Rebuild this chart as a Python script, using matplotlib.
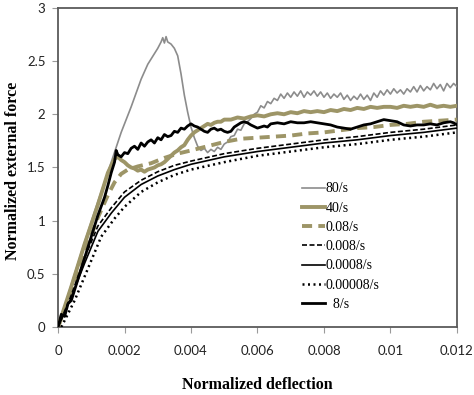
import numpy as np
import matplotlib
matplotlib.use("Agg")
import matplotlib.pyplot as plt

# ── DATA (x in units of 1e-3) ──────────────────────────────────────────────
# 80/s : rise and peak, then a sampled tail (step 0.1e-3 from 3.5e-3)
X80_HEAD = [0, 0.4, 0.8, 1.2, 1.6, 1.9, 2.2, 2.5, 2.7, 2.9, 3.0, 3.1, 3.15, 3.2, 3.25, 3.3, 3.4]
Y80_HEAD = [0, 0.40, 0.80, 1.18, 1.55, 1.83, 2.07, 2.33, 2.47, 2.57, 2.62, 2.68, 2.72, 2.67, 2.73, 2.68, 2.66]
X80_TAIL_START, X80_TAIL_STEP = 3.5, 0.1
Y80_TAIL = [2.62, 2.55, 2.38, 2.18, 2.02, 1.88, 1.78, 1.70, 1.66, 1.68,
            1.64, 1.67, 1.65, 1.69, 1.67, 1.72, 1.74, 1.79, 1.80, 1.86,
            1.85, 1.91, 1.93, 1.96, 2.00, 2.02, 2.08, 2.06, 2.12, 2.10,
            2.15, 2.13, 2.19, 2.15, 2.20, 2.16, 2.21, 2.17, 2.22, 2.16,
            2.21, 2.18, 2.22, 2.17, 2.21, 2.16, 2.20, 2.15, 2.19, 2.16,
            2.20, 2.14, 2.18, 2.13, 2.17, 2.14, 2.19, 2.14, 2.18, 2.13,
            2.20, 2.16, 2.22, 2.18, 2.23, 2.19, 2.24, 2.20, 2.23, 2.19,
            2.24, 2.21, 2.26, 2.21, 2.27, 2.22, 2.26, 2.23, 2.29, 2.24,
            2.28, 2.22, 2.29, 2.25, 2.29, 2.26]

X40 = [0, 0.4, 0.8, 1.2, 1.5, 1.7,
       1.8, 1.9, 2.0, 2.1, 2.2, 2.3, 2.4, 2.5, 2.6, 2.7, 2.8, 2.9, 3.0, 3.1, 3.2, 3.3,
       3.4, 3.5, 3.6, 3.7, 3.8, 3.9, 4.0, 4.1, 4.2, 4.3, 4.4, 4.5, 4.6, 4.7, 4.8, 4.9, 5.0,
       5.2, 5.4, 5.6, 5.8, 6.0, 6.2, 6.4, 6.6, 6.8, 7.0, 7.2, 7.4, 7.6, 7.8, 8.0, 8.2,
       8.4, 8.6, 8.8, 9.0, 9.2, 9.4, 9.6, 9.8, 10.0, 10.2, 10.4, 10.6, 10.8, 11.0, 11.2,
       11.4, 11.6, 11.8, 12.0]
Y40 = [0, 0.38, 0.78, 1.15, 1.45, 1.58,
       1.60, 1.57, 1.55, 1.52, 1.50, 1.49, 1.47, 1.48, 1.46, 1.48, 1.49, 1.50, 1.52, 1.53, 1.55, 1.58,
       1.61, 1.64, 1.66, 1.69, 1.71, 1.76, 1.80, 1.83, 1.85, 1.87, 1.89, 1.91, 1.90, 1.92, 1.93, 1.93, 1.95,
       1.95, 1.97, 1.96, 1.98, 1.99, 1.98, 2.00, 2.01, 2.00, 2.02, 2.01, 2.03, 2.02, 2.03, 2.02, 2.04,
       2.03, 2.05, 2.04, 2.06, 2.05, 2.07, 2.06, 2.07, 2.07, 2.06, 2.08, 2.07, 2.08, 2.07, 2.09,
       2.07, 2.08, 2.07, 2.08]

X008 = [0, 0.4, 0.8, 1.2, 1.5, 1.7, 1.9, 2.1, 2.4, 2.8, 3.2, 3.6, 4.0, 4.5, 5.0, 5.5,
        6.0, 6.5, 7.0, 7.5, 8.0, 8.5, 9.0, 9.5, 10.0, 10.5, 11.0, 11.5, 12.0]
Y008 = [0, 0.34, 0.70, 1.03, 1.24, 1.36, 1.44, 1.48, 1.51, 1.54, 1.59, 1.63, 1.66, 1.70, 1.74, 1.77,
        1.78, 1.79, 1.80, 1.82, 1.83, 1.85, 1.87, 1.88, 1.90, 1.91, 1.93, 1.94, 1.95]

X_SMOOTH = [0, 0.4, 0.8, 1.2, 1.6, 2.0, 2.5, 3.0, 3.5, 4.0, 5.0, 6.0, 7.0, 8.0, 9.0, 10.0, 11.0, 12.0]
Y0008 = [0, 0.30, 0.65, 0.95, 1.12, 1.27, 1.38, 1.46, 1.52, 1.56, 1.63, 1.68, 1.72, 1.76, 1.79, 1.83, 1.86, 1.90]
Y00008 = [0, 0.28, 0.60, 0.90, 1.07, 1.22, 1.34, 1.42, 1.48, 1.53, 1.60, 1.65, 1.69, 1.73, 1.76, 1.80, 1.83, 1.87]
X000008 = [0.1, 0.5, 0.9, 1.3, 1.7, 2.0, 2.5, 3.0, 3.5, 4.0, 5.0, 6.0, 7.0, 8.0, 9.0, 10.0, 11.0, 12.0]
Y000008 = [0, 0.25, 0.55, 0.85, 1.02, 1.13, 1.27, 1.36, 1.43, 1.48, 1.55, 1.61, 1.65, 1.69, 1.72, 1.76, 1.79, 1.83]

X8 = [0, 0.1, 0.2, 0.3, 0.4, 0.6, 0.8, 1.0, 1.2, 1.4, 1.5, 1.6, 1.7, 1.75, 1.8, 1.9, 2.0, 2.1,
      2.2, 2.3, 2.4, 2.5, 2.6, 2.7, 2.8, 2.9, 3.0, 3.1, 3.2, 3.3, 3.4, 3.5, 3.6, 3.7, 3.8, 3.9,
      4.0, 4.1, 4.2, 4.3, 4.4, 4.5, 4.6, 4.7, 4.8, 4.9, 5.0, 5.1, 5.2, 5.3, 5.4, 5.5, 5.6, 5.7,
      5.8, 6.0, 6.2, 6.3, 6.4, 6.6, 6.8, 7.0, 7.2, 7.4, 7.6, 7.8, 8.0, 8.2, 8.4, 8.6, 8.8, 9.0,
      9.2, 9.4, 9.6, 9.8, 10.0, 10.2, 10.4, 10.6, 10.8, 11.0, 11.2, 11.4, 11.6, 11.8, 11.9, 12.0]
Y8 = [0, 0.12, 0.10, 0.22, 0.25, 0.45, 0.65, 0.85, 1.05, 1.22, 1.33, 1.45, 1.55, 1.66, 1.62, 1.60, 1.64, 1.63,
      1.68, 1.70, 1.67, 1.73, 1.70, 1.74, 1.76, 1.73, 1.78, 1.76, 1.81, 1.79, 1.80, 1.84, 1.83, 1.87, 1.86, 1.89,
      1.91, 1.89, 1.88, 1.86, 1.84, 1.83, 1.86, 1.87, 1.85, 1.86, 1.84, 1.83, 1.84, 1.88, 1.90, 1.92, 1.93, 1.92,
      1.90, 1.87, 1.89, 1.88, 1.91, 1.92, 1.91, 1.93, 1.92, 1.92, 1.93, 1.92, 1.91, 1.90, 1.88, 1.87, 1.86, 1.88,
      1.90, 1.91, 1.93, 1.95, 1.94, 1.93, 1.90, 1.89, 1.90, 1.90, 1.91, 1.90, 1.92, 1.93, 1.92, 1.90]

X_TICKS = [0, 0.002, 0.004, 0.006, 0.008, 0.01, 0.012]
X_TICKLABELS = ["0", "0.002", "0.004", "0.006", "0.008", "0.01", "0.012"]
Y_TICKS = [0, 0.5, 1, 1.5, 2, 2.5, 3]
Y_TICKLABELS = ["0", "0.5", "1", "1.5", "2", "2.5", "3"]

GRAY = "#8c8c8c"
OLIVE = "#9d9567"

# ── PLOT ───────────────────────────────────────────────────────────────────
k = 1e-3
x80 = np.array(X80_HEAD + [X80_TAIL_START + i * X80_TAIL_STEP for i in range(len(Y80_TAIL))]) * k
y80 = np.array(Y80_HEAD + Y80_TAIL)

fig = plt.figure(figsize=(4.74, 3.95), dpi=100)
ax = fig.add_axes([0.1224, 0.172, 0.8416, 0.808])

ax.plot(x80, y80, color=GRAY, lw=1.2, label="80/s", zorder=3)
ax.plot(np.array(X40) * k, Y40, color=OLIVE, lw=2.8, label="40/s", zorder=4)
ax.plot(np.array(X008) * k, Y008, color=OLIVE, lw=2.8, dashes=(2.6, 1.6), label="0.08/s", zorder=4)
ax.plot(np.array(X_SMOOTH) * k, Y0008, color="black", lw=1.2, dashes=(3, 1.5), label="0.008/s", zorder=5)
ax.plot(np.array(X_SMOOTH) * k, Y00008, color="black", lw=1.2, label="0.0008/s", zorder=5)
ax.plot(np.array(X000008) * k, Y000008, color="black", lw=1.8, dashes=(0.8, 1.4), label="0.00008/s", zorder=5)
ax.plot(np.array(X8) * k, Y8, color="black", lw=2.0, label="  8/s", zorder=6)

ax.set_xlim(0, 0.012)
ax.set_ylim(0, 3)
ax.set_xticks(X_TICKS)
ax.set_xticklabels(X_TICKLABELS)
ax.set_yticks(Y_TICKS)
ax.set_yticklabels(Y_TICKLABELS)
ax.tick_params(axis="both", direction="out", length=4, width=0.8, color="#9a9a9a",
               labelsize=9.5, labelcolor="#222222", pad=5)
ax.tick_params(axis="x", pad=9)
for lab in ax.get_xticklabels() + ax.get_yticklabels():
    lab.set_family("Lato")

for side in ["left", "bottom", "top", "right"]:
    ax.spines[side].set_color("#5a5a5a")
    ax.spines[side].set_linewidth(1.3)

ax.set_xlabel("Normalized deflection", family="Liberation Serif", fontweight="bold",
              fontsize=11.5, labelpad=14)
ax.set_ylabel("Normalized external force", family="Liberation Serif", fontweight="bold",
              fontsize=11.5)
ax.yaxis.set_label_coords(-0.093, 0.49)

leg = ax.legend(loc="upper left", bbox_to_anchor=(0.595, 0.475), frameon=False,
                prop={"family": "Liberation Serif", "size": 10},
                handlelength=1.6, handletextpad=0.1, labelspacing=0.45, borderpad=0)

fig.savefig("out.png", dpi=100)
